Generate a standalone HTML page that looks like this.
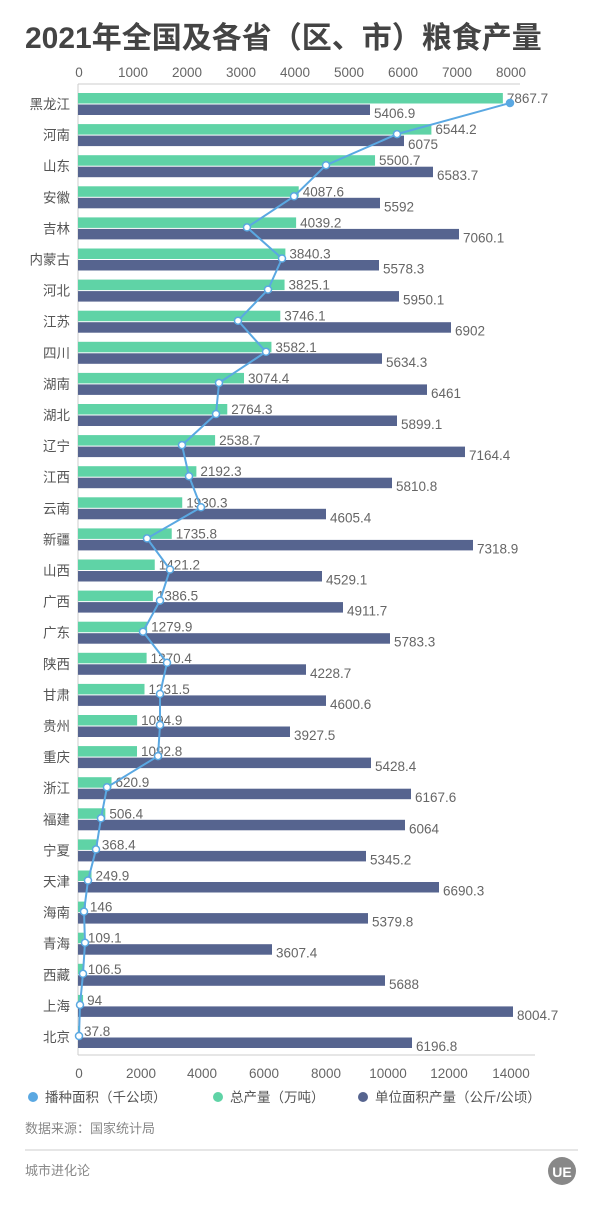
<!DOCTYPE html>
<html><head><meta charset="utf-8"><style>
body{margin:0;background:#fff;width:600px;height:1200px;overflow:hidden;font-family:"Liberation Sans","Noto Sans CJK SC",sans-serif}
</style></head><body>
<svg width="600" height="1200" xmlns="http://www.w3.org/2000/svg" font-family="Liberation Sans, Noto Sans CJK SC, sans-serif">
<text x="25" y="48" font-size="30" font-weight="bold" fill="#444">2021年全国及各省（区、市）粮食产量</text>
<g font-size="13.5" fill="#666" text-anchor="middle">
<text x="79" y="77">0</text><text x="133" y="77">1000</text><text x="187" y="77">2000</text><text x="241" y="77">3000</text><text x="295" y="77">4000</text><text x="349" y="77">5000</text><text x="403" y="77">6000</text><text x="457" y="77">7000</text><text x="511" y="77">8000</text>
</g>
<line x1="78" y1="84" x2="520" y2="84" stroke="#ccc"/>
<line x1="78" y1="84" x2="78" y2="1055" stroke="#ccc"/>
<line x1="78" y1="1055" x2="535" y2="1055" stroke="#ccc"/>
<g font-size="13.5" fill="#666" text-anchor="middle">
<text x="79" y="1078">0</text><text x="141" y="1078">2000</text><text x="202" y="1078">4000</text><text x="264" y="1078">6000</text><text x="326" y="1078">8000</text><text x="388" y="1078">10000</text><text x="449" y="1078">12000</text><text x="511" y="1078">14000</text>
</g>
<g id="bars"></g>
<g font-size="13.5">
<circle cx="33" cy="1097" r="5" fill="#5aa8e2"/><text x="45" y="1102" fill="#555">播种面积（千公顷）</text>
<circle cx="218" cy="1097" r="5" fill="#5fd3a6"/><text x="230" y="1102" fill="#555">总产量（万吨）</text>
<circle cx="363" cy="1097" r="5" fill="#56648f"/><text x="375" y="1102" fill="#555">单位面积产量（公斤/公顷）</text>
</g>
<text x="25" y="1133" font-size="13" fill="#888">数据来源：国家统计局</text>
<line x1="25" y1="1150" x2="578" y2="1150" stroke="#ccc"/>
<text x="25" y="1175" font-size="13" fill="#888">城市进化论</text>
<circle cx="562" cy="1171" r="14" fill="#888"/>
<text x="562" y="1177" font-size="14" font-weight="bold" fill="#fff" text-anchor="middle">UE</text>
</svg>
<script>
var names=["黑龙江","河南","山东","安徽","吉林","内蒙古","河北","江苏","四川","湖南","湖北","辽宁","江西","云南","新疆","山西","广西","广东","陕西","甘肃","贵州","重庆","浙江","福建","宁夏","天津","海南","青海","西藏","上海","北京"];
var g=[7867.7,6544.2,5500.7,4087.6,4039.2,3840.3,3825.1,3746.1,3582.1,3074.4,2764.3,2538.7,2192.3,1930.3,1735.8,1421.2,1386.5,1279.9,1270.4,1231.5,1094.9,1092.8,620.9,506.4,368.4,249.9,146,109.1,106.5,94,37.8];
var d=[5406.9,6075,6583.7,5592,7060.1,5578.3,5950.1,6902,5634.3,6461,5899.1,7164.4,5810.8,4605.4,7318.9,4529.1,4911.7,5783.3,4228.7,4600.6,3927.5,5428.4,6167.6,6064,5345.2,6690.3,5379.8,3607.4,5688,8004.7,6196.8];
var dx=[370,404,433,380,459,379,399,451,382,427,397,465,392,326,473,322,343,390,306,326,290,371,411,405,366,439,368,272,385,513,412];
var lx=[510,397,326,294,247,282,268,238,266,219,216,182,189,201,147,170,160,143,167,160,160,158,107,101,96,88,84,85,83,80,79];
var s="",pts=[],mk="";
for(var i=0;i<31;i++){var c=104+i*31.1;var ge=78+g[i]*0.054;
s+='<rect x="78" y="'+(c-11)+'" width="'+(ge-78)+'" height="10.5" fill="#5fd3a6"/>';
s+='<rect x="78" y="'+(c+0.5)+'" width="'+(dx[i]-78)+'" height="10.5" fill="#56648f"/>';
s+='<text x="70" y="'+(c+5)+'" font-size="13.5" fill="#555" text-anchor="end">'+names[i]+'</text>';
s+='<text x="'+(ge+4)+'" y="'+(c-1)+'" font-size="13.5" fill="#666">'+g[i]+'</text>';
s+='<text x="'+(dx[i]+4)+'" y="'+(c+14)+'" font-size="13.5" fill="#666">'+d[i]+'</text>';
var py=c-1;pts.push(lx[i]+","+py);
mk+='<circle cx="'+lx[i]+'" cy="'+py+'" r="3.5" fill="'+(i==0?"#5aa8e2":"#fff")+'" stroke="#5aa8e2" stroke-width="1.5"/>';}
s+='<polyline points="'+pts.join(" ")+'" fill="none" stroke="#5aa8e2" stroke-width="2"/>'+mk;
document.getElementById("bars").innerHTML=s;
</script>
</body></html>
